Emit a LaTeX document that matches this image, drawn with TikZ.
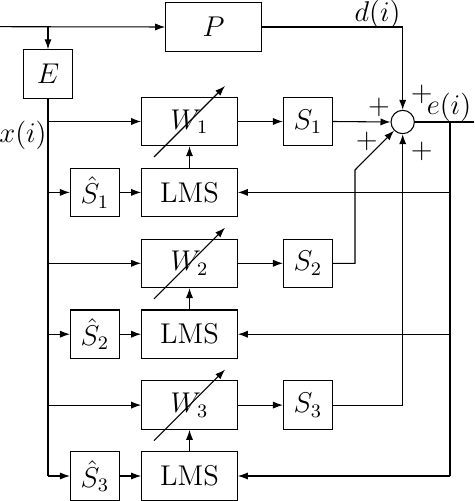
\documentclass[tikz,border=0pt]{standalone}
\usetikzlibrary{arrows.meta,calc}
\begin{document}
\begin{tikzpicture}[x=0.42pt,y=-0.42pt,
  line width=0.45pt,
  every node/.style={font=\fontsize{12}{14}\selectfont},
  blk/.style={draw,inner sep=0pt,minimum height=20.33pt},
  wide/.style={blk,minimum width=40.15pt},
  small/.style={blk,minimum width=20.41pt},
  sumc/.style={draw,circle,inner sep=0pt,minimum size=9.8pt},
  lbl/.style={inner sep=0pt},
  arr/.style={-{Latex[length=4.2pt,width=3pt]}},
  adj/.style={-{Latex[length=4.2pt,width=3pt]}}
]
\useasboundingbox (0,0) rectangle (474,501);

% top blocks
\node[wide] (P) at (213.5,27) {$P$};
\node[small] (E) at (48,74) {$E$};
\node[sumc] (sum) at (402.7,122) {};

% rows
\node[wide] (W1) at (189.5,121.5) {$W_1$};
\node[small] (S1) at (307.8,121.5) {$S_1$};
\node[small] (H1) at (94.8,192.4) {$\hat{S}_1$};
\node[wide] (L1) at (189.5,192.4) {LMS};

\node[wide] (W2) at (189.5,263.3) {$W_2$};
\node[small] (S2) at (307.8,263.3) {$S_2$};
\node[small] (H2) at (94.8,334.2) {$\hat{S}_2$};
\node[wide] (L2) at (189.5,334.2) {LMS};

\node[wide] (W3) at (189.5,405.1) {$W_3$};
\node[small] (S3) at (307.8,405.1) {$S_3$};
\node[small] (H3) at (94.8,476) {$\hat{S}_3$};
\node[wide] (L3) at (189.5,476) {LMS};

% labels
\node[lbl] (xl) at (23,135) {$x(i)$};
\node[lbl] (dl) at (377.5,14) {$d(i)$};
\node[lbl] (el) at (449,107) {$e(i)$};
\node[lbl] (p1) at (379,107) {$+$};
\node[lbl] (p2) at (421.7,94) {$+$};
\node[lbl] (p3) at (366.7,141.7) {$+$};
\node[lbl] (p4) at (421.7,151) {$+$};

% coordinates
\coordinate (in) at (0,26.7);
\coordinate (br) at (48,26.7);
\coordinate (xb) at (48,476);
\coordinate (out) at (474,122);
\coordinate (fb) at (450,122);
\coordinate (fbb) at (450,476);
\coordinate (s2a) at (355,263.3);
\coordinate (s2b) at (355,170);

% input and P
\draw[arr] (in) -- (P.west);
\draw[arr] (br) -- (E.north);
\draw (E.south) -- (xb);
\draw[arr] (xb) -- (H3.west);
\draw[arr] (P.east) -- (sum.north |- P.east) -- (sum.north);

% reference signal branches
\foreach \k in {1,2,3}{
  \draw[arr] (E.south |- W\k.west) -- (W\k.west);
  \draw[arr] (H\k.east) -- (L\k.west);
  \draw[arr] (L\k.north) -- (W\k.south);
  \draw[arr] (W\k.east) -- (S\k.west);
  \draw[adj] ($(W\k.center)+(-35.5,35.5)$) -- ($(W\k.center)+(35.5,-35.5)$);
  \draw[arr] (fb |- L\k.east) -- (L\k.east);
}
\foreach \k in {1,2}{
  \draw[arr] (E.south |- H\k.west) -- (H\k.west);
}

% secondary paths to the sum
\draw[arr] (S1.east) -- (sum.west);
\draw[arr] (S2.east) -- (s2a) -- (s2b) -- (sum.south west);
\draw[arr] (S3.east) -- (sum.south |- S3.east) -- (sum.south);

% error output and feedback
\draw (sum.east) -- (out);
\draw (fb) -- (fbb);
\end{tikzpicture}
\end{document}
